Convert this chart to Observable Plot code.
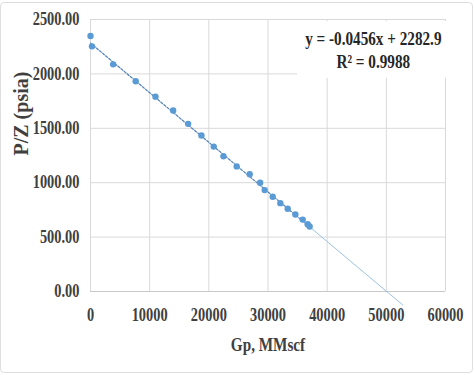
<!DOCTYPE html>
<html>
<head>
<meta charset="utf-8">
<script src="https://cdn.jsdelivr.net/npm/d3@7"></script>
<script src="https://cdn.jsdelivr.net/npm/@observablehq/plot@0.6"></script>
<style>
  html, body { margin: 0; padding: 0; background: #ffffff; overflow: hidden; }
  #wrap { position: relative; width: 474px; height: 375px; }
  #border { position: absolute; left: 0; top: 2px; width: 471px; height: 369px; border: 1px solid #dedede; border-radius: 4px; pointer-events: none; }
  #wrap svg { position: absolute; left: 0; top: 0; }
</style>
</head>
<body>
<div id="wrap"><div id="border"></div></div>
<script>
// Data
const gp = [0, 250, 3830, 7640, 10980, 13970, 16500, 18750, 20830, 22470, 24710, 26910, 28670, 29440, 30800, 32090, 33330, 34630, 35860, 36700, 37040];
const pz = [2349, 2253, 2088, 1932, 1791, 1664, 1541, 1434, 1332, 1243, 1150, 1077, 1000, 932, 871, 812, 760, 708, 661, 618, 597];
const slope = -0.0456;
const intercept = 2282.9;
const trendStart = 0;
const trendEnd = 52800;     // forward forecast of the trendline
const dataEnd = 37040;
const xTicks = [0, 10000, 20000, 30000, 40000, 50000, 60000];
const yTicks = [0, 500, 1000, 1500, 2000, 2500];
const equationText = "y = -0.0456x + 2282.9";
const r2Text = "R² = 0.9988";
const xLabel = "Gp, MMscf";
const yLabel = "P/Z (psia)";

const points = gp.map((g, i) => ({gp: g, pz: pz[i]}));
const trendFull = [trendStart, trendEnd].map(x => ({x, y: slope * x + intercept}));
const trendData = [trendStart, dataEnd].map(x => ({x, y: slope * x + intercept}));

const font = "'Liberation Serif', 'Times New Roman', serif";

const chart = Plot.plot({
  width: 474,
  height: 375,
  marginLeft: 90,
  marginRight: 29,
  marginTop: 19,
  marginBottom: 84,
  style: {fontFamily: font, fontWeight: "bold", color: "#404040", background: "transparent", overflow: "visible"},
  x: {domain: [0, 60000]},
  y: {domain: [0, 2500]},
  marks: [
    Plot.gridX(xTicks, {stroke: "#d9d9d9", strokeOpacity: 1}),
    Plot.gridY(yTicks.filter(d => d > 0), {stroke: "#d9d9d9", strokeOpacity: 1}),
    Plot.ruleY([0], {stroke: "#c8c8c8"}),
    Plot.rect([{x1: 35000, x2: 60500, y1: 1960, y2: 2480}], {x1: "x1", x2: "x2", y1: "y1", y2: "y2", fill: "white"}),
    Plot.axisX(xTicks, {tickSize: 0, tickPadding: 17, fontSize: 18, tickFormat: d => String(d), label: null}),
    Plot.axisY(yTicks, {tickSize: 0, tickPadding: 11, fontSize: 18, tickFormat: d => d.toFixed(2), label: null}),
    Plot.line(trendFull, {x: "x", y: "y", stroke: "#9dc3e6", strokeWidth: 1}),
    Plot.line(trendData, {x: "x", y: "y", stroke: "#5a84b8", strokeWidth: 1.2, strokeDasharray: "2,2"}),
    Plot.dot(points, {x: "gp", y: "pz", r: 3.2, fill: "#5b9bd5", stroke: "none"}),
    Plot.text([xLabel], {frameAnchor: "bottom", dy: 59.5, lineAnchor: "bottom", fontSize: 19, fill: "#404040"}),
    Plot.text([yLabel], {frameAnchor: "left", dx: -69, rotate: -90, lineAnchor: "middle", fontSize: 20, fill: "#404040"}),
    Plot.text([equationText], {x: () => 47800, y: () => 2266, lineAnchor: "bottom", fontSize: 19, fill: "#262626"}),
    Plot.text([r2Text], {x: () => 47800, y: () => 2054, lineAnchor: "bottom", fontSize: 19, fill: "#262626"})
  ]
});

document.getElementById("wrap").appendChild(chart);

// The reference's lettering is horizontally condensed; compress each horizontal text run.
const squeeze = 0.8;
chart.querySelectorAll("text").forEach(t => {
  const tr = t.getAttribute("transform") || "";
  if (tr.includes("rotate")) return;
  const L = t.getComputedTextLength();
  if (L > 0) {
    t.setAttribute("textLength", (L * squeeze).toFixed(2));
    t.setAttribute("lengthAdjust", "spacingAndGlyphs");
  }
});
</script>
</body>
</html>
